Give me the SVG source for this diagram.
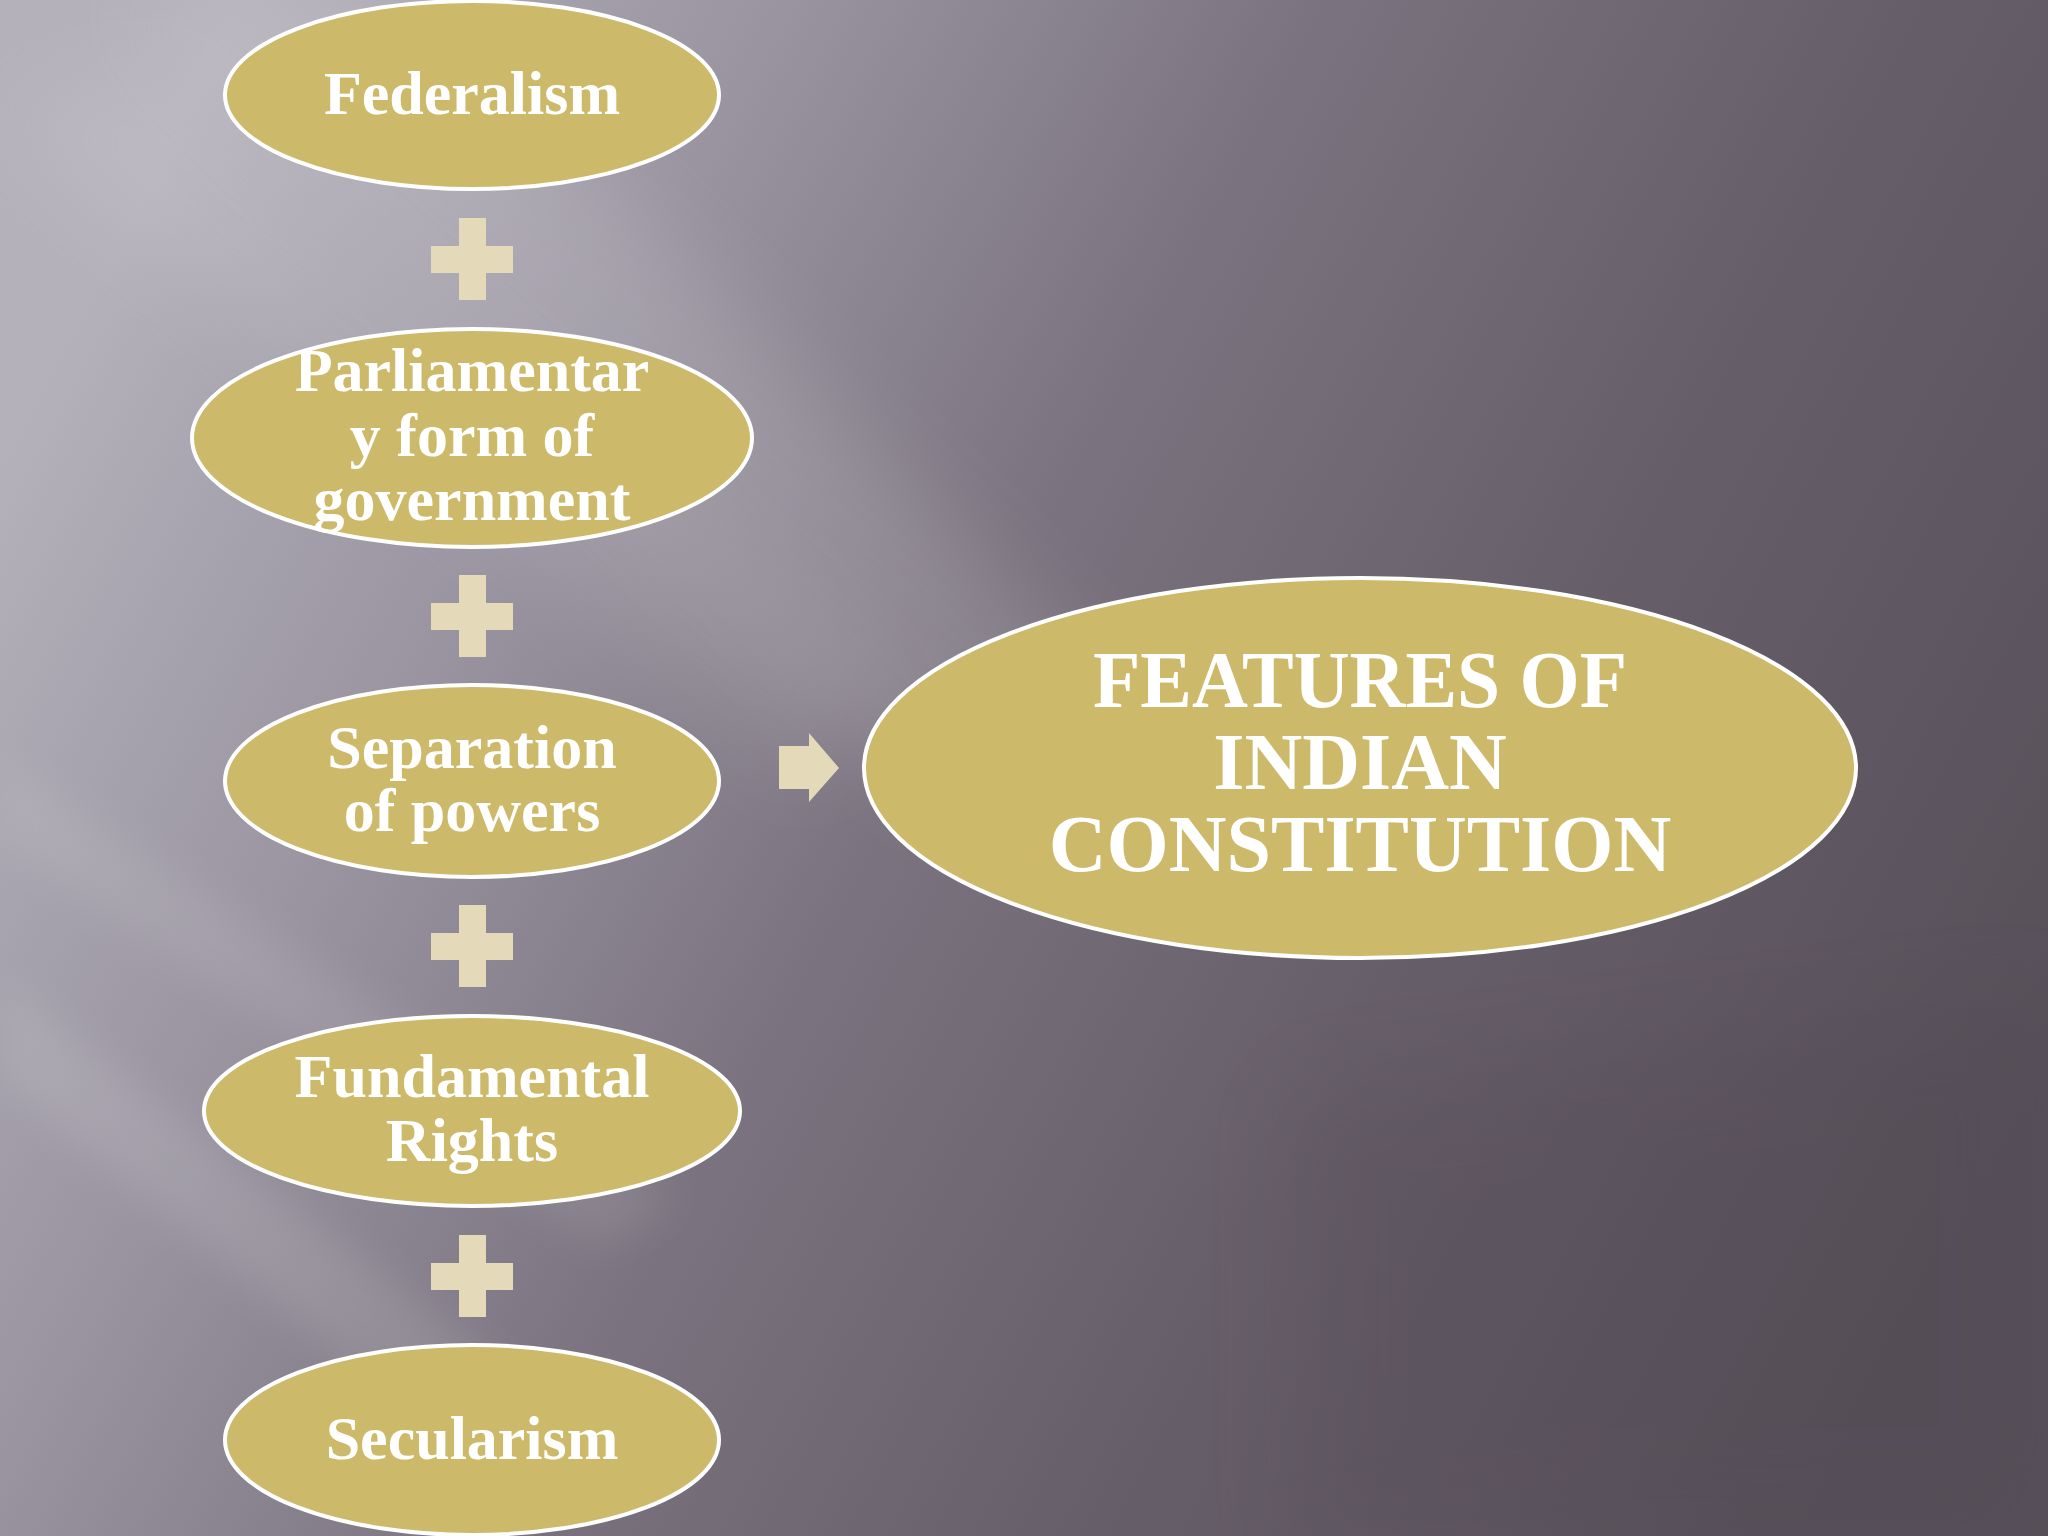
<svg xmlns="http://www.w3.org/2000/svg" width="2048" height="1536" viewBox="0 0 2048 1536">
  <defs>
    <linearGradient id="bg" x1="0" y1="0.3" x2="1" y2="0.7">
      <stop offset="0" stop-color="#b4b1bb"/>
      <stop offset="0.22" stop-color="#9a95a1"/>
      <stop offset="0.45" stop-color="#7b7480"/>
      <stop offset="0.7" stop-color="#665e68"/>
      <stop offset="1" stop-color="#575059"/>
    </linearGradient>
    <filter id="blur" x="-50%" y="-50%" width="200%" height="200%">
      <feGaussianBlur stdDeviation="45"/>
    </filter>
    <filter id="blur2" x="-50%" y="-50%" width="200%" height="200%">
      <feGaussianBlur stdDeviation="20"/>
    </filter>
    <style>
      .node ellipse { fill: #cdb96a; stroke: #ffffff; stroke-width: 4; }
      .node text { font-family: "Liberation Serif", "Times New Roman", serif; font-weight: bold; fill: #ffffff; text-anchor: middle; font-size: 62px; }
      .big text { font-size: 80px; }
      .plus { fill: #e4dab9; }
    </style>
  </defs>

  <rect width="2048" height="1536" fill="url(#bg)"/>
  <g>
    <polygon points="120,0 420,0 1150,720 960,820" fill="#ffffff" opacity="0.12" filter="url(#blur)"/>
    <polygon points="0,120 150,60 900,700 800,780" fill="#ffffff" opacity="0.10" filter="url(#blur)"/>
    <polygon points="0,980 0,1080 420,1420 520,1380" fill="#ffffff" opacity="0.10" filter="url(#blur2)"/>
    <polygon points="0,760 0,840 600,1250 680,1200" fill="#ffffff" opacity="0.08" filter="url(#blur2)"/>
    <polygon points="1300,1100 2048,1000 2048,1536 1300,1536" fill="#4e4550" opacity="0.2" filter="url(#blur)"/>
  </g>

  <g id="connectors">
    <path class="plus" d="M459,218 h27 v28 h27 v27 h-27 v27 h-27 v-27 h-28 v-27 h28 z"/>
    <path class="plus" d="M459,575 h27 v28 h27 v27 h-27 v27 h-27 v-27 h-28 v-27 h28 z"/>
    <path class="plus" d="M459,905 h27 v28 h27 v27 h-27 v27 h-27 v-27 h-28 v-27 h28 z"/>
    <path class="plus" d="M459,1235 h27 v28 h27 v27 h-27 v27 h-27 v-27 h-28 v-27 h28 z"/>
    <path class="plus" d="M779,746 H809 V733 L839,768 L809,802 V789 H779 Z"/>
  </g>

  <g id="federalism" class="node">
    <ellipse cx="472" cy="95" rx="247" ry="94"/>
    <text x="472" y="114">Federalism</text>
  </g>
  <g id="parliamentary" class="node">
    <ellipse cx="472" cy="438" rx="280" ry="109"/>
    <text x="472" y="391">Parliamentar</text>
    <text x="472" y="456">y form of</text>
    <text x="472" y="520">government</text>
  </g>
  <g id="separation" class="node">
    <ellipse cx="472" cy="781" rx="247" ry="96"/>
    <text x="472" y="768">Separation</text>
    <text x="472" y="831">of powers</text>
  </g>
  <g id="fundamental" class="node">
    <ellipse cx="472" cy="1111" rx="268" ry="95"/>
    <text x="472" y="1097">Fundamental</text>
    <text x="472" y="1161">Rights</text>
  </g>
  <g id="secularism" class="node">
    <ellipse cx="472" cy="1440" rx="247" ry="95"/>
    <text x="472" y="1459">Secularism</text>
  </g>
  <g id="features" class="node big">
    <ellipse cx="1360" cy="768" rx="496" ry="190"/>
    <text x="1360" y="707" textLength="534" lengthAdjust="spacingAndGlyphs">FEATURES OF</text>
    <text x="1360" y="789">INDIAN</text>
    <text x="1360" y="871">CONSTITUTION</text>
  </g>
</svg>
